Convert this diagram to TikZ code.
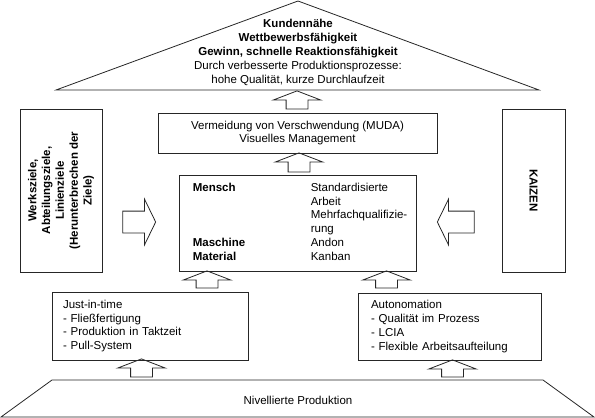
\documentclass[tikz,border=0pt]{standalone}
\usepackage{fontspec}
\setmainfont{Liberation Sans}
\usetikzlibrary{shapes.arrows}
\begin{document}
\begin{tikzpicture}[x=1pt,y=-1pt,
	font=\fontsize{11.5}{13.8}\selectfont,
	linie/.style={draw=black!85,line width=.8pt},
	box/.style={linie,inner sep=0pt},
	fett/.style={font=\fontsize{11.5}{13.8}\selectfont\bfseries},
	pfeil/.style={single arrow,linie,inner xsep=0pt,inner ysep=10.5pt,single arrow head extend=13pt,single arrow tip angle=138,single arrow head indent=0pt},
	seitenpfeil/.style={pfeil,single arrow head extend=12pt,single arrow tip angle=128}]
	\useasboundingbox (0,0) rectangle (595,418);
	\draw[linie] (298,1) -- (539,90) -- (56,90) -- cycle;
	\node[align=center] (1) at (298,52.5) {\textbf{Kundennähe}\\\textbf{Wettbewerbsfähigkeit}\\\textbf{Gewinn, schnelle Reaktionsfähigkeit}\\Durch verbesserte Produktionsprozesse:\\hohe Qualität, kurze Durchlaufzeit};
	\node[pfeil,rotate=90,minimum height=18pt] (2) at (297,102) {};
	\node[box,minimum width=279pt,minimum height=40pt,align=center] (3) at (297.5,133) {Vermeidung von Verschwendung (MUDA)\\Visuelles Management};
	\node[pfeil,rotate=90,minimum height=19pt] (4) at (299,164.5) {};
	\node[box,minimum width=237pt,minimum height=96pt] (5) at (297.5,223) {};
	\node[anchor=west,inner sep=0pt] (6) at ([xshift=14pt]5.west) {\begin{tabular}{@{}p{118pt}@{}l@{}}
		\textbf{Mensch} & Standardisierte\\
		& Arbeit\\
		& Mehrfachqualifizie-\\
		& rung\\
		\textbf{Maschine} & Andon\\
		\textbf{Material} & Kanban
	\end{tabular}};
	\node[box,fett,rotate=90,minimum width=163pt,minimum height=82pt,align=center] (7) at (61,190.5) {Werksziele,\\Abteilungsziele,\\Linienziele\\(Herunterbrechen der\\Ziele)};
	\node[seitenpfeil,minimum height=33pt] (8) at (136.5,222) {};
	\node[seitenpfeil,rotate=180,minimum height=37pt] (9) at (458.5,222) {};
	\node[box,fett,rotate=-90,minimum width=163pt,minimum height=63pt] (10) at (533.5,190.5) {KAIZEN};
	\node[pfeil,rotate=90,minimum height=17pt] (11) at (207,281.5) {};
	\node[pfeil,rotate=90,minimum height=17pt] (12) at (386.5,281.5) {};
	\node[box,minimum height=68pt,text width=174pt,inner xsep=11pt,align=left] (13) at (150,326) {Just-in-time\\- Fließfertigung\\- Produktion in Taktzeit\\- Pull-System};
	\node[box,minimum height=67pt,text width=157pt,inner xsep=13pt,align=left] (14) at (449.5,326.5) {Autonomation\\- Qualität im Prozess\\- LCIA\\- Flexible Arbeitsaufteilung};
	\node[pfeil,rotate=90,minimum height=18pt] (15) at (141.5,370) {};
	\node[pfeil,rotate=90,minimum height=17pt] (16) at (452.5,370.5) {};
	\draw[linie] (52,380) -- (543,380) -- (594,417) -- (1,417) -- cycle;
	\node (17) at (298,400) {Nivellierte Produktion};
\end{tikzpicture}
\end{document}
